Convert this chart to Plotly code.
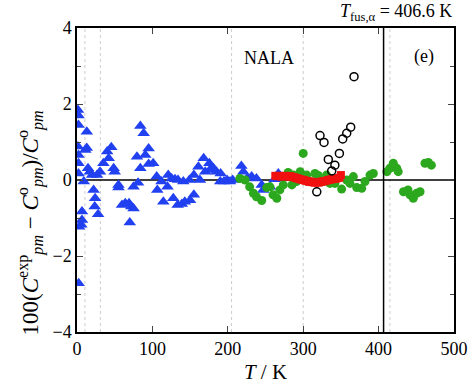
import plotly.graph_objects as go

# ---- data ----
blue_T = [1.3, 2, 2, 1.3, 2, 2, 2, 13, 13, 11, 14.6, 17, 20, 26.5, 30.5, 9, 22, 24, 23.5, 28,
          6.6, 6.6, 5.7, 2.6, 2.2, 35, 40, 45.5, 42, 48.6, 50, 55, 55, 59.7, 64, 69, 72, 75, 70, 75,
          81, 79.5, 84, 84, 88.4, 90.6, 95, 95, 101, 105.7, 106.5, 112, 114.5, 120, 121, 125.6, 127.7,
          130, 134, 133.5, 139, 141, 143, 149, 150, 155, 155, 161, 163, 168, 170, 175.5, 176, 181,
          185, 190.5, 190, 195, 199, 203, 206.5, 218, 220.6, 226, 231.6, 238, 245, 247, 256, 262, 267]
blue_y = [1.84, 1.7, 1.45, 0.88, 0.66, 0.44, 0.17, 1.27, 0.84, 0.79, 0.31, 0.22, 0.13, 0.13, 0.22,
          -0.04, -0.26, -0.48, -0.7, -0.9, -0.83, -1.05, -1.18, -1.23, -2.72, 0.44, 0.75, 0.86, 0.57,
          0.31, 0.22, -0.13, -0.2, -0.66, -0.61, -0.61, -0.7, -0.75, -1.12, -0.18, -0.07, 0.61, 0.31,
          1.42, 1.23, 0.66, 0.83, 0.42, 0.44, 0.09, -0.26, -0.04, -0.57, -0.18, 0.13, 0.04, -0.48,
          0.02, 0.0, -0.66, -0.63, -0.04, -0.57, 0.0, -0.53, -0.39, 0.13, 0.35, 0.0, 0.57, 0.22, 0.44,
          0.26, 0.31, 0.22, 0.17, -0.04, -0.04, 0.0, -0.04, 0.0, 0.37, 0.22, 0.05, 0.09, 0.04, -0.13,
          -0.26, -0.18, 0.02, 0.17]

green_T = [216, 223, 229, 234, 238, 245, 251.6, 256, 260, 265, 269, 273.6, 280, 285, 287, 291, 296,
           300, 304.6, 306.8, 309, 315.6, 320, 326.7, 331, 335.5, 337.8, 342, 351, 357.7, 362, 366.5,
           371, 377.6, 382, 388.6, 393, 411, 415, 419.5, 424, 426, 433, 439, 441.6, 446, 450.5, 455,
           461.5, 466, 470]
green_y = [0.04, 0.0, -0.18, -0.35, -0.44, -0.54, -0.2, -0.18, -0.39, -0.48, -0.26, -0.13, 0.2,
           -0.13, 0.13, -0.04, 0.22, 0.7, 0.13, -0.04, -0.04, 0.17, 0.12, -0.04, 0.13, -0.09, 0.04,
           -0.09, -0.24, 0.0, -0.09, 0.09, -0.2, -0.22, -0.04, 0.13, 0.17, 0.22, 0.31, 0.44, 0.31,
           0.22, -0.31, -0.26, -0.39, -0.48, -0.35, -0.31, 0.44, 0.46, 0.39]

red_T = [263, 265.5, 268, 270.5, 273, 275.5, 278, 280.5, 283, 285.5, 288, 290.5, 293, 295.5, 298,
         300.5, 303, 305.5, 308, 310.5, 313, 315.5, 318, 320.5, 323, 325.5, 328, 330.5, 333, 335.5,
         338, 340.5, 343, 345.5, 348, 350]
red_y = [0.11, 0.10, 0.11, 0.09, 0.10, 0.11, 0.10, 0.09, 0.10, 0.08, 0.07, 0.05, 0.04, 0.02, 0.01,
         0.0, -0.02, -0.03, -0.05, -0.04, -0.06, -0.07, -0.06, -0.07, -0.05, -0.04, -0.03, -0.02,
         0.0, 0.01, 0.02, 0.04, 0.03, 0.05, 0.06, 0.13]

open_T = [318, 322.3, 327.6, 333.3, 337.8, 342, 348, 352.4, 357.7, 363, 367.4]
open_y = [-0.31, 1.17, 0.99, 0.54, 0.24, 0.39, 0.70, 1.08, 1.23, 1.39, 2.72]

dotted_T = [10.5, 31, 205, 300, 415]
T_fus = 406.6

x_ticks = [0, 100, 200, 300, 400, 500]
y_ticks = [-4, -2, 0, 2, 4]

FONT = "Liberation Serif"

fig = go.Figure()

fig.add_trace(go.Scatter(x=blue_T, y=blue_y, mode="markers",
                         marker=dict(symbol="triangle-up", size=11, color="#2140f0"),
                         showlegend=False))
fig.add_trace(go.Scatter(x=green_T, y=green_y, mode="markers",
                         marker=dict(symbol="circle", size=9, color="#2ca81e"),
                         showlegend=False))
fig.add_trace(go.Scatter(x=red_T, y=red_y, mode="markers",
                         marker=dict(symbol="square", size=8, color="#f01010"),
                         showlegend=False))
fig.add_trace(go.Scatter(x=open_T, y=open_y, mode="markers",
                         marker=dict(symbol="circle-open", size=8, color="black",
                                     line=dict(width=1.5, color="black")),
                         showlegend=False))

shapes = []
for t in dotted_T:
    shapes.append(dict(type="line", xref="x", yref="paper", x0=t, x1=t, y0=0, y1=1,
                       line=dict(color="#cccccc", width=1, dash="dot"), layer="below"))
shapes.append(dict(type="line", xref="x", yref="paper", x0=T_fus, x1=T_fus, y0=0, y1=1,
                   line=dict(color="black", width=1.5)))
shapes.append(dict(type="line", xref="paper", yref="y", x0=0, x1=1, y0=0, y1=0,
                   line=dict(color="black", width=1.5), layer="below"))

ytitle = ("100(<i>C</i><sup>exp</sup><sub><i>pm</i></sub> − <i>C</i><sup>o</sup><sub><i>pm</i></sub>)"
          "/<i>C</i><sup>o</sup><sub><i>pm</i></sub>")

fig.update_layout(
    width=474, height=391,
    margin=dict(l=77, r=20, t=28, b=59),
    plot_bgcolor="white", paper_bgcolor="white",
    font=dict(family=FONT, size=18, color="black"),
    shapes=shapes,
    xaxis=dict(range=[0, 500], tickvals=x_ticks, ticks="inside", ticklen=6,
               showline=True, linecolor="black", linewidth=1.5, mirror="ticks",
               showgrid=False, zeroline=False, automargin=False,
               title=dict(text="<i>T</i> / K", font=dict(size=21), standoff=6)),
    yaxis=dict(range=[-4, 4], tickvals=y_ticks, ticks="inside", ticklen=6,
               showline=True, linecolor="black", linewidth=1.5, mirror="ticks",
               showgrid=False, zeroline=False, automargin=False,
               minor=dict(tickvals=[-3, -1, 1, 3], ticks="inside", ticklen=4)),
    annotations=[
        dict(text=ytitle, x=-0.125, y=0.36, xref="paper", yref="paper", textangle=-90,
             xanchor="center", yanchor="middle", showarrow=False, font=dict(size=23)),
        dict(text="NALA", x=254.6, y=3.2, xref="x", yref="y", showarrow=False,
             font=dict(size=18)),
        dict(text="(e)", x=460, y=3.24, xref="x", yref="y", showarrow=False,
             font=dict(size=18)),
        dict(text="<i>T</i><sub>fus,α</sub> = 406.6 K", x=1.0, y=1.0, xref="paper", yref="paper",
             xanchor="right", yanchor="bottom", yshift=2, showarrow=False, font=dict(size=18)),
    ],
)

fig.write_html("out.html", config={"displayModeBar": False},
               post_script="document.body.style.margin='0px';")
